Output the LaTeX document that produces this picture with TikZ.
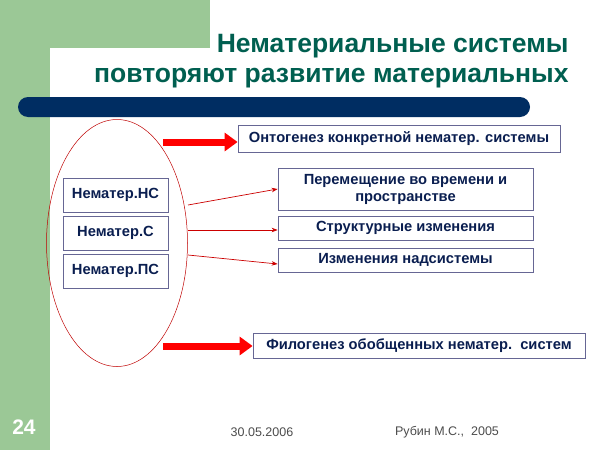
\documentclass[tikz,border=0pt]{standalone}
\usepackage{fontspec}
\setmainfont{Liberation Sans}
\usetikzlibrary{arrows.meta,shapes.geometric}
\definecolor{navy}{RGB}{10,30,80}
\definecolor{gr}{RGB}{155,200,150}
\definecolor{teal}{RGB}{0,95,80}
\definecolor{bar}{RGB}{0,45,98}
\begin{document}
\begin{tikzpicture}[x=1pt,y=-1pt,
  bx/.style={draw=black!70!blue!60,line width=0.8pt,fill=white,font=\bfseries\fontsize{14.7}{17}\selectfont,text=navy,align=center,inner sep=0pt},
  thin/.style={draw=red!80!black,-{Stealth[length=6pt]},line width=0.7pt},
  fat/.style={draw=red,line width=7pt,-{Triangle[length=13pt,width=18pt]}}]
\useasboundingbox (0,0) rectangle (600,450);
\fill[white] (0,0) rectangle (600,450);
\fill[gr] (0,0) rectangle (210,48);
\fill[gr] (0,0) rectangle (50,450);
\fill[white,rounded corners=10pt] (50,48) rectangle (620,470);
\node[font=\bfseries\fontsize{26.5}{30}\selectfont,text=teal,align=right,anchor=east] (t) at (572,61) {Нематериальные системы\\повторяют развитие материальных};
\fill[bar,rounded corners=10pt] (18,97) rectangle (530,117);
\node[draw=red!75!black,line width=0.5pt,ellipse,minimum width=141pt,minimum height=247pt,inner sep=0pt] (el) at (117,243) {};
\node[bx,minimum width=322pt,minimum height=27pt] (o) at (399,138.5) {Онтогенез конкретной нематер. системы};
\node[bx,minimum width=105pt,minimum height=34pt] (a) at (115.5,195) {Нематер.НС};
\node[bx,minimum width=105pt,minimum height=34pt] (b) at (115.5,233) {Нематер.С};
\node[bx,minimum width=105pt,minimum height=34pt] (c) at (115.5,271) {Нематер.ПС};
\node[bx,minimum width=255pt,minimum height=42pt] (p) at (405.5,189) {Перемещение во времени и\\пространстве};
\node[bx,minimum width=255pt,minimum height=24pt] (s) at (405.5,228) {Структурные изменения};
\node[bx,minimum width=255pt,minimum height=24pt] (n) at (405.5,260) {Изменения надсистемы};
\node[bx,minimum width=332pt,minimum height=25pt] (f) at (419,345.5) {Филогенез обобщенных нематер.\ \ систем};
\coordinate (o1) at (163,142);
\coordinate (f1) at (163,346);
\draw[fat] (o1) -- (o.west|-o1);
\draw[fat] (f1) -- (f.west|-f1);
\coordinate (e1) at (188,205);
\coordinate (e2) at (188,230);
\coordinate (e3) at (188,255);
\draw[thin] (e1) -- (p.west|-0,189);
\draw[thin] (e2) -- (s.west|-0,230);
\draw[thin] (e3) -- (n.west|-0,264);
\node[text=white,font=\bfseries\fontsize{21}{24}\selectfont] (pg) at (24,427) {24};
\node[text=black!70,font=\fontsize{12.5}{15}\selectfont] (d) at (262,432) {30.05.2006};
\node[text=black!70,font=\fontsize{12.5}{15}\selectfont] (r) at (447,432) {Рубин М.С.,\ \ 2005};
\end{tikzpicture}
\end{document}
